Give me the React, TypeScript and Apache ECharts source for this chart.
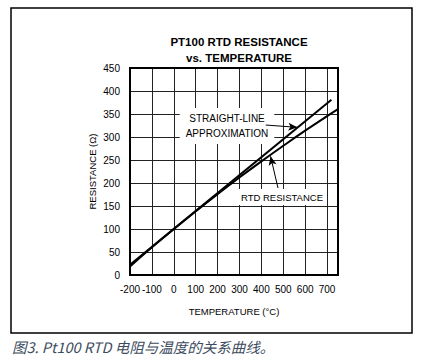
import React, { useEffect, useRef } from "react";
import * as echarts from "echarts";

const temps = [-200, -100, 0, 100, 200, 300, 400, 500, 600, 700, 750];
const rtdValues = [18.5, 60.3, 100, 138.5, 175.9, 212.1, 247.1, 280.9, 313.7, 345.3, 360.6];
const straightTemps = [-200, 720];
const straightValues = [22, 381];
const xTicks = [-200, -100, 0, 100, 200, 300, 400, 500, 600, 700];
const yTicks = [0, 50, 100, 150, 200, 250, 300, 350, 400, 450];

const FONT = "'Liberation Sans', Arial, sans-serif";

export default function App() {
  const ref = useRef<HTMLDivElement>(null);
  useEffect(() => {
    const chart = echarts.init(ref.current!, null, { renderer: "svg" });
    const rtd = temps.map((t, i) => [t, rtdValues[i]]);
    const straight = straightTemps.map((t, i) => [t, straightValues[i]]);
    chart.setOption({
      animation: false,
      backgroundColor: "#fff",
      grid: { left: 130, top: 68, width: 208, height: 207, show: false },
      title: {
        text: "PT100 RTD RESISTANCE\nvs. TEMPERATURE",
        left: 234,
        top: 29,
        textAlign: "center",
        textStyle: { fontFamily: FONT, fontWeight: "bold", fontSize: 11.5, lineHeight: 16, color: "#000" },
      },
      xAxis: {
        type: "value",
        min: -200,
        max: 750,
        interval: 100,
        name: "TEMPERATURE (°C)",
        nameLocation: "middle",
        nameGap: 31,
        nameTextStyle: { fontFamily: FONT, fontSize: 9.5, color: "#000" },
        axisLine: { show: true, onZero: false, lineStyle: { color: "#000", width: 2 } },
        axisTick: { show: false },
        axisLabel: {
          fontFamily: FONT, fontSize: 10, color: "#000", margin: 9,
          showMinLabel: true,
          showMaxLabel: false,
          hideOverlap: false,
          formatter: (v: number) => (xTicks.includes(v) ? String(v) : ""),
        },
        splitLine: { show: true, lineStyle: { color: "#222", width: 1 } },
      },
      yAxis: {
        type: "value",
        min: 0,
        max: 450,
        interval: 50,
        name: "RESISTANCE (Ω)",
        nameLocation: "middle",
        nameGap: 33,
        nameTextStyle: { fontFamily: FONT, fontSize: 9.5, color: "#000" },
        axisLine: { show: true, onZero: false, lineStyle: { color: "#000", width: 2 } },
        axisTick: { show: false },
        axisLabel: {
          fontFamily: FONT, fontSize: 10, color: "#000", margin: 10,
          formatter: (v: number) => (yTicks.includes(v) ? String(v) : ""),
        },
        splitLine: { show: true, lineStyle: { color: "#222", width: 1 } },
      },
      graphic: [
        {
          type: "rect",
          shape: { x: 130, y: 68, width: 208, height: 207 },
          style: { fill: "none", stroke: "#000", lineWidth: 2 },
          z: 10,
        },
        {
          type: "rect",
          shape: { x: 11, y: 8, width: 401, height: 325 },
          style: { fill: "none", stroke: "#000", lineWidth: 1.5 },
          z: 10,
        },
        {
          type: "text",
          x: 227,
          y: 126,
          z: 20,
          style: {
            text: "STRAIGHT-LINE\nAPPROXIMATION",
            fontFamily: FONT, fontSize: 10, lineHeight: 15, fill: "#000",
            align: "center", verticalAlign: "middle",
            backgroundColor: "#fff", padding: [3, 6],
          },
        },
        {
          type: "text",
          x: 282,
          y: 197,
          z: 20,
          style: {
            text: "RTD RESISTANCE",
            fontFamily: FONT, fontSize: 9.5, fill: "#000",
            align: "center", verticalAlign: "middle",
            backgroundColor: "#fff", padding: [3, 4],
          },
        },
        {
          type: "text",
          x: 12,
          y: 346,
          style: {
            text: "图3. Pt100 RTD 电阻与温度的关系曲线。",
            fontFamily: "'Noto Sans CJK SC', sans-serif", fontSize: 14.5, fontStyle: "italic",
            fill: "#3d4c60", verticalAlign: "middle",
          },
        },
      ],
      series: [
        {
          type: "line",
          data: rtd,
          smooth: true,
          symbol: "none",
          lineStyle: { color: "#000", width: 2 },
          z: 5,
          markLine: {
            silent: true,
            symbol: ["none", "arrow"],
            symbolSize: [6, 9],
            label: { show: false },
            lineStyle: { color: "#000", width: 1, type: "solid" },
            data: [[{ coord: [476, 189] }, { coord: [442, 258] }]],
            z: 25,
          },
        },
        {
          type: "line",
          data: straight,
          symbol: "none",
          lineStyle: { color: "#000", width: 2 },
          z: 5,
          markLine: {
            silent: true,
            symbol: ["none", "arrow"],
            symbolSize: [6, 9],
            label: { show: false },
            lineStyle: { color: "#000", width: 1, type: "solid" },
            data: [[{ coord: [420, 326] }, { coord: [564, 321] }]],
            z: 25,
          },
        },
      ],
    });
    return () => chart.dispose();
  }, []);
  return <div ref={ref} style={{ position: "fixed", left: 0, top: 0, width: 424, height: 355 }} />;
}
